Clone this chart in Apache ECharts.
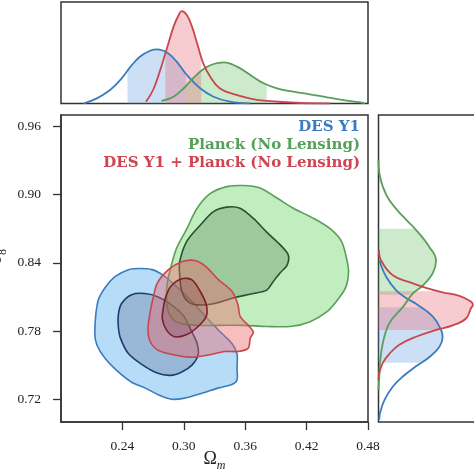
<!DOCTYPE html>
<html>
<head>
<meta charset="utf-8">
<script src="https://cdn.jsdelivr.net/npm/echarts@6.0.0/dist/echarts.min.js"></script>
<style>
html,body{margin:0;padding:0;background:#fff;}
#chart{width:474px;height:474px;}
</style>
</head>
<body>
<div id="chart"></div>
<script>
// ---- data ----
const seriesNames = ['DES Y1', 'Planck (No Lensing)', 'DES Y1 + Planck (No Lensing)'];
const omegaTicks = [0.24, 0.30, 0.36, 0.42, 0.48];
const sigmaTicks = [0.72, 0.78, 0.84, 0.90, 0.96];

// 2D contours [Omega_m, sigma_8]
const blueOuter = [[0.213,0.779],[0.216,0.806],[0.223,0.818],[0.233,0.828],[0.246,0.834],[0.257,0.835],[0.269,0.834],[0.280,0.829],[0.288,0.823],[0.298,0.815],[0.311,0.803],[0.324,0.790],[0.337,0.778],[0.347,0.769],[0.352,0.760],[0.352,0.747],[0.352,0.737],[0.347,0.733],[0.334,0.730],[0.317,0.725],[0.301,0.721],[0.288,0.720],[0.275,0.724],[0.262,0.730],[0.249,0.735],[0.236,0.744],[0.223,0.756],[0.215,0.768]];
const blueInner = [[0.236,0.794],[0.239,0.804],[0.249,0.812],[0.262,0.813],[0.275,0.810],[0.288,0.803],[0.300,0.793],[0.308,0.779],[0.313,0.769],[0.314,0.759],[0.308,0.750],[0.298,0.744],[0.287,0.741],[0.274,0.743],[0.260,0.750],[0.246,0.760],[0.238,0.774],[0.236,0.784]];
const greenOuter = [[0.287,0.835],[0.293,0.853],[0.303,0.870],[0.313,0.888],[0.326,0.901],[0.342,0.907],[0.358,0.908],[0.374,0.906],[0.391,0.897],[0.407,0.888],[0.427,0.879],[0.443,0.870],[0.454,0.859],[0.459,0.844],[0.461,0.832],[0.458,0.818],[0.449,0.806],[0.440,0.797],[0.423,0.788],[0.404,0.784],[0.381,0.784],[0.358,0.785],[0.335,0.785],[0.313,0.785],[0.293,0.788],[0.285,0.797],[0.283,0.812],[0.284,0.823]];
const greenInner = [[0.296,0.829],[0.296,0.841],[0.303,0.859],[0.316,0.873],[0.329,0.885],[0.342,0.889],[0.355,0.888],[0.368,0.879],[0.381,0.867],[0.394,0.856],[0.402,0.847],[0.401,0.838],[0.394,0.831],[0.387,0.823],[0.381,0.816],[0.368,0.813],[0.348,0.809],[0.329,0.804],[0.313,0.803],[0.304,0.806],[0.298,0.815]];
const redOuter = [[0.274,0.822],[0.285,0.834],[0.298,0.841],[0.311,0.842],[0.321,0.837],[0.334,0.825],[0.347,0.815],[0.353,0.803],[0.355,0.793],[0.363,0.785],[0.368,0.779],[0.365,0.774],[0.363,0.765],[0.353,0.762],[0.340,0.762],[0.324,0.759],[0.308,0.757],[0.291,0.759],[0.275,0.763],[0.267,0.771],[0.265,0.782],[0.267,0.796],[0.270,0.809]];
const redInner = [[0.282,0.809],[0.287,0.819],[0.298,0.826],[0.308,0.825],[0.316,0.815],[0.322,0.803],[0.322,0.793],[0.314,0.784],[0.303,0.777],[0.291,0.775],[0.283,0.781],[0.279,0.791],[0.280,0.800]];

// 1D marginals over Omega_m [Omega_m, density]
const blueOm = [[0.202,0],[0.215,0.051],[0.228,0.133],[0.238,0.232],[0.248,0.363],[0.257,0.461],[0.267,0.520],[0.274,0.534],[0.284,0.500],[0.293,0.412],[0.303,0.281],[0.316,0.150],[0.329,0.067],[0.345,0.018],[0.365,0]];
const greenOm = [[0.278,0.025],[0.290,0.067],[0.300,0.150],[0.309,0.248],[0.319,0.337],[0.329,0.389],[0.339,0.406],[0.352,0.363],[0.365,0.281],[0.378,0.199],[0.391,0.150],[0.407,0.116],[0.423,0.091],[0.440,0.061],[0.456,0.034],[0.469,0.015],[0.477,0.002]];
const redOm = [[0.263,0.018],[0.270,0.133],[0.277,0.330],[0.283,0.527],[0.290,0.757],[0.295,0.872],[0.298,0.911],[0.303,0.872],[0.308,0.757],[0.313,0.593],[0.319,0.396],[0.326,0.260],[0.335,0.150],[0.348,0.094],[0.365,0.049],[0.381,0.025],[0.414,0.005],[0.443,0]];

// 1D marginals over sigma_8 [density, sigma_8]
const blueS8 = [[0.008,0.842],[0.074,0.828],[0.172,0.816],[0.271,0.809],[0.369,0.804],[0.534,0.793],[0.616,0.781],[0.632,0.775],[0.599,0.766],[0.500,0.757],[0.369,0.749],[0.239,0.740],[0.140,0.731],[0.057,0.719],[0.015,0.708],[0.008,0.702]];
const greenS8 = [[0,0.930],[0.008,0.919],[0.042,0.907],[0.107,0.895],[0.239,0.881],[0.369,0.869],[0.501,0.854],[0.567,0.842],[0.535,0.831],[0.436,0.820],[0.337,0.813],[0.239,0.801],[0.107,0.787],[0.042,0.769],[0.015,0.752],[0.008,0.740],[0,0.728]];
const redS8 = [[0.005,0.851],[0.025,0.842],[0.140,0.829],[0.304,0.823],[0.468,0.818],[0.632,0.814],[0.796,0.811],[0.910,0.806],[0.930,0.803],[0.911,0.800],[0.862,0.791],[0.732,0.785],[0.567,0.781],[0.369,0.775],[0.205,0.768],[0.107,0.760],[0.042,0.752],[0.008,0.743],[0,0.737]];

// 68% intervals shaded in the marginals
const blueOmBand = [0.245, 0.302];
const redOmBand = [0.282, 0.317];
const greenOmBand = [0.302, 0.381];
const blueS8Band = [0.752, 0.801];
const redS8Band = [0.781, 0.815];
const greenS8Band = [0.812, 0.870];

// ---- styling ----
const FONT = '"Liberation Serif", "DejaVu Serif", serif';
const LEGEND_FONT = '"DejaVu Serif", "Liberation Serif", serif';
const AX = '#333';
const C = {
  blue: {line: '#3a7cc0', inner: '#1f3d6b', fill: 'rgba(110,185,240,0.50)', innerFill: 'rgba(50,60,110,0.22)', band: 'rgba(120,170,225,0.38)', text: '#3a7bc6'},
  green: {line: '#5a9e5a', inner: '#24532e', fill: 'rgba(120,215,110,0.45)', innerFill: 'rgba(30,70,40,0.22)', band: 'rgba(100,190,100,0.32)', text: '#55a05a'},
  red: {line: '#c8474d', inner: '#7c1f2c', fill: 'rgba(235,100,105,0.42)', innerFill: 'rgba(110,30,40,0.22)', band: 'rgba(230,110,120,0.35)', text: '#cf4450'}
};

function contour(points, fill, stroke, z) {
  return {
    type: 'custom', xAxisIndex: 0, yAxisIndex: 0, clip: true, silent: true, z: z,
    data: points,
    renderItem: function (params, api) {
      if (params.dataIndex !== 0) return null;
      const pts = points.map(p => api.coord(p));
      return {type: 'polygon', shape: {points: pts, smooth: 0.3},
              style: {fill: fill, stroke: stroke, lineWidth: 1.6}};
    }
  };
}

// band under a 1D curve between lo and hi; vertical=true for the right panel
function band(curve, range, fill, axisIdx, vertical) {
  const k = vertical ? 1 : 0, v = vertical ? 0 : 1;
  const sorted = curve.slice().sort((a, b) => a[k] - b[k]);
  function at(t) {
    for (let i = 0; i < sorted.length - 1; i++) {
      const a = sorted[i], b = sorted[i + 1];
      if (t >= a[k] && t <= b[k]) {
        const f = (t - a[k]) / (b[k] - a[k] || 1);
        return a[v] + f * (b[v] - a[v]);
      }
    }
    return 0;
  }
  function pt(key, val) { return vertical ? [val, key] : [key, val]; }
  return {
    type: 'custom', xAxisIndex: axisIdx, yAxisIndex: axisIdx, clip: true, silent: true, z: 1,
    data: curve,
    renderItem: function (params, api) {
      if (params.dataIndex !== 0) return null;
      const lo = range[0], hi = range[1];
      const list = [pt(lo, 0), pt(lo, at(lo))];
      sorted.forEach(p => { if (p[k] > lo && p[k] < hi) list.push(pt(p[k], p[v])); });
      list.push(pt(hi, at(hi)), pt(hi, 0));
      return {type: 'polygon', shape: {points: list.map(p => api.coord(p))}, style: {fill: fill}};
    }
  };
}

function curveLine(data, color, axisIdx) {
  return {type: 'line', xAxisIndex: axisIdx, yAxisIndex: axisIdx, data: data, smooth: 0.4,
          showSymbol: false, silent: true, z: 3, clip: true,
          lineStyle: {color: color, width: 1.8}};
}

const chart = echarts.init(document.getElementById('chart'), null, {renderer: 'canvas'});
const labelStyle = {fontFamily: FONT, fontSize: 13.5, color: '#222'};
const gridBase = {show: true, borderColor: AX, borderWidth: 1.5, backgroundColor: 'transparent', containLabel: false, outerBoundsMode: 'none'};

chart.setOption({
  animation: false,
  backgroundColor: '#fff',
  grid: [
    Object.assign({left: 61, top: 115, width: 307, height: 307}, gridBase),
    Object.assign({left: 61, top: 2, width: 307, height: 101.5}, gridBase),
    Object.assign({left: 378.5, top: 115, width: 101.5, height: 307}, gridBase)
  ],
  xAxis: [
    {type: 'value', gridIndex: 0, min: 0.18, max: 0.48, splitLine: {show: false},
     axisLine: {show: true, lineStyle: {color: AX, width: 1.5}},
     axisTick: {show: true, inside: false, length: 8, lineStyle: {color: AX, width: 1.3}, customValues: omegaTicks},
     axisLabel: Object.assign({customValues: omegaTicks, margin: 17, formatter: v => v.toFixed(2)}, labelStyle),
     name: '{o|Ω}{m|m}', nameLocation: 'middle', nameGap: 28, nameMoveOverlap: false,
     nameTextStyle: {rich: {o: {fontFamily: FONT, fontSize: 18, color: '#222', verticalAlign: 'bottom', padding: [0, 0, 4, 0]},
                            m: {fontFamily: FONT, fontSize: 12, fontStyle: 'italic', color: '#222', verticalAlign: 'bottom'}}}},
    {type: 'value', gridIndex: 1, min: 0.18, max: 0.48, show: false},
    {type: 'value', gridIndex: 2, min: 0, max: 1, show: false}
  ],
  yAxis: [
    {type: 'value', gridIndex: 0, min: 0.70, max: 0.97, splitLine: {show: false},
     axisLine: {show: true, lineStyle: {color: AX, width: 1.5}},
     axisTick: {show: true, inside: false, length: 8, lineStyle: {color: AX, width: 1.3}, customValues: sigmaTicks},
     axisLabel: Object.assign({customValues: sigmaTicks, margin: 20, formatter: v => v.toFixed(2)}, labelStyle),
     name: '{s|σ}{e|8}', nameLocation: 'middle', nameGap: 52, nameRotate: 90, nameMoveOverlap: false,
     nameTextStyle: {padding: [0, 0, 0, 24],
                     rich: {s: {fontFamily: FONT, fontSize: 18, fontStyle: 'italic', color: '#222', verticalAlign: 'bottom', padding: [0, 0, 4, 0]},
                            e: {fontFamily: FONT, fontSize: 12, color: '#222', verticalAlign: 'bottom'}}}},
    {type: 'value', gridIndex: 1, min: 0, max: 1, show: false},
    {type: 'value', gridIndex: 2, min: 0.70, max: 0.97, show: false}
  ],
  graphic: [
    {type: 'text', x: 360, y: 127, z: 10, style: {text: seriesNames[0], fill: C.blue.text, font: 'bold 15px ' + LEGEND_FONT, textAlign: 'right', textVerticalAlign: 'middle'}},
    {type: 'text', x: 360, y: 145, z: 10, style: {text: seriesNames[1], fill: C.green.text, font: 'bold 15px ' + LEGEND_FONT, textAlign: 'right', textVerticalAlign: 'middle'}},
    {type: 'text', x: 360, y: 163, z: 10, style: {text: seriesNames[2], fill: C.red.text, font: 'bold 15px ' + LEGEND_FONT, textAlign: 'right', textVerticalAlign: 'middle'}}
  ],
  series: [
    contour(blueOuter, C.blue.fill, C.blue.line, 2),
    contour(blueInner, C.blue.innerFill, C.blue.inner, 2),
    contour(greenOuter, C.green.fill, C.green.line, 2),
    contour(greenInner, C.green.innerFill, C.green.inner, 2),
    contour(redOuter, C.red.fill, C.red.line, 2),
    contour(redInner, C.red.innerFill, C.red.inner, 2),

    band(blueOm, blueOmBand, C.blue.band, 1, false),
    band(greenOm, greenOmBand, C.green.band, 1, false),
    band(redOm, redOmBand, C.red.band, 1, false),
    curveLine(blueOm, C.blue.line, 1),
    curveLine(greenOm, C.green.line, 1),
    curveLine(redOm, C.red.line, 1),

    band(blueS8, blueS8Band, C.blue.band, 2, true),
    band(greenS8, greenS8Band, C.green.band, 2, true),
    band(redS8, redS8Band, C.red.band, 2, true),
    curveLine(blueS8, C.blue.line, 2),
    curveLine(greenS8, C.green.line, 2),
    curveLine(redS8, C.red.line, 2)
  ]
});
</script>
</body>
</html>
